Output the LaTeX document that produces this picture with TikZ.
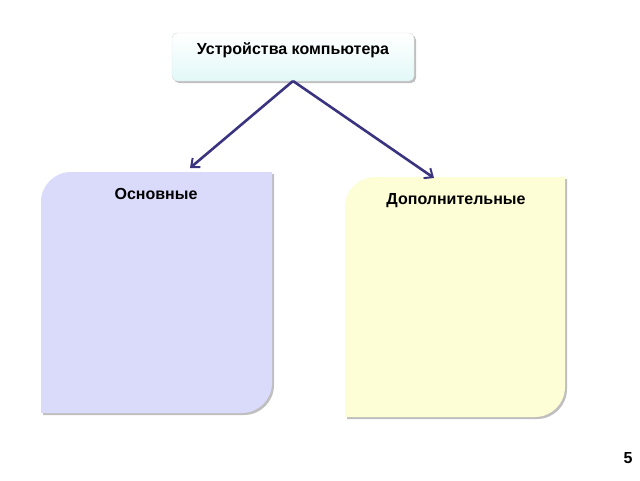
\documentclass[tikz,border=0pt]{standalone}
\usepackage{fontspec}
\setmainfont{Liberation Sans}
\usepackage{tikz}
\usetikzlibrary{arrows.meta,positioning}
\definecolor{ArrowBlue}{RGB}{58,52,128}
\definecolor{LavFill}{RGB}{218,218,250}
\definecolor{CreamFill}{RGB}{253,253,214}
\definecolor{CyanFill}{RGB}{226,248,248}
\tikzset{
 label/.style={font=\bfseries\fontsize{16}{18}\selectfont},
 link/.style={ArrowBlue,line width=2.6pt,-{Straight Barb[length=7pt,width=12pt,line width=2pt]}},
 shade/.style={fill=black!25}
}
\begin{document}
\begin{tikzpicture}[x=1pt,y=-1pt]
 \useasboundingbox (0,0) rectangle (640,480);
 % top box
 \fill[shade,rounded corners=5pt] (174,35) rectangle (416,83);
 \shade[rounded corners=5pt,top color=white,bottom color=CyanFill,draw=black!12] (172,33) rectangle (414,81);
 \node[label] (top) at (293,50) {Устройства компьютера};
 \coordinate (topfoot) at (293,81);
 % left box
 \fill[shade] (43,204) arc (180:270:30) -- (274,174) -- (274,385) arc (0:90:30) -- (43,415) -- cycle;
 \fill[LavFill] (41,202) arc (180:270:30) -- (272,172) -- (272,383) arc (0:90:30) -- (41,413) -- cycle;
 \node[label] (main) at (156,194) {Основные};
 % right box
 \fill[shade] (347,209) arc (180:270:30) -- (567,179) -- (567,389) arc (0:90:30) -- (347,419) -- cycle;
 \fill[CreamFill] (345,207) arc (180:270:30) -- (565,177) -- (565,387) arc (0:90:30) -- (345,417) -- cycle;
 \node[label] (extra) at (456,201) {Дополнительные};
 % arrows
 \coordinate (lefttip) at (190,168);
 \coordinate (righttip) at (434,178);
 \draw[link] (topfoot) -- (lefttip);
 \draw[link] (topfoot) -- (righttip);
 \node[label] (page) at (628,458) {5};
\end{tikzpicture}
\end{document}
